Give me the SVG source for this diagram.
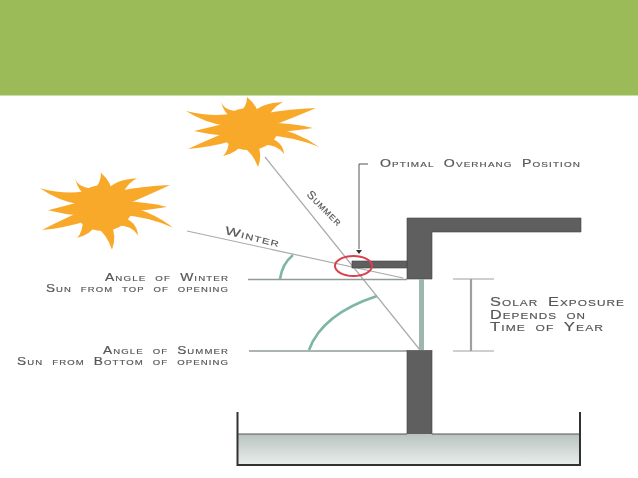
<svg xmlns="http://www.w3.org/2000/svg" width="638" height="478" viewBox="0 0 638 478">
<style>
text{font-family:"Liberation Sans",Arial,sans-serif;font-variant:small-caps;fill:#555;font-size:10px;letter-spacing:.8px;word-spacing:3px;stroke:#555;stroke-width:.15}
.big{font-size:12.500px}
.tilt{font-size:11.500px}
.ray{stroke:#aaa;stroke-width:1.2;fill:none}
.lvl{stroke:#8f9b97;stroke-width:1.3;fill:none}
.arc{stroke:#7db5a6;stroke-width:2.6;fill:none}
.wall{fill:#5f5f5f;stroke:#444;stroke-width:.6}
.dim{stroke:#a0a0a0;fill:none}
</style>
<defs>
<filter id="soft" x="-5%" y="-5%" width="110%" height="110%"><feGaussianBlur stdDeviation="0.45"/></filter>
<linearGradient id="soil" x1="0" y1="0" x2="0" y2="1"><stop offset="0" stop-color="#b9c3c0"/><stop offset="1" stop-color="#eaeeec"/></linearGradient>
<g id="sun" fill="#f9a92c">
<ellipse rx="29" ry="21"/>
<path d="M-20-15Q-38-12-63-18Q-44-6-22-3Z"/>
<path d="M-22-6Q-38-2-55 2Q-38 6-21 7Z"/>
<path d="M-22 3Q-44 12-61 20Q-38 18-17 12Z"/>
<path d="M-20 9Q-20 22-26 27Q-12 24-6 14Z"/>
<path d="M-8 16Q4 24 9 38Q14 26 8 14Z"/>
<path d="M8 16Q28 14 35 25Q34 12 18 8Z"/>
<path d="M16 6Q46 8 70 18Q48 2 20-2Z"/>
<path d="M20-6Q44-6 64-1Q44 2 20 4Z"/>
<path d="M18-16Q40-20 67-21Q46-12 20-2Z"/>
<path d="M4-16Q12-26 34-27Q20-20 18-6Z"/>
<path d="M-10-16Q-2-22-2-32Q10-22 8-14Z"/>
<path d="M-14-18Q-26-20-28-27Q-24-12-10-8Z"/>
</g>
</defs>
<g filter="url(#soft)">
<rect id="band" x="0" y="0" width="638" height="95.500" fill="#9bbb59"/>
<g id="sun-summer" transform="translate(249 129)"><use href="#sun"/></g>
<g id="sun-winter" transform="translate(103 208) scale(1 1.1)"><use href="#sun"/></g>
<g id="connectors">
<path class="ray" d="M265 157L420 350"/>
<path class="ray" d="M187 231L403 278"/>
<path class="lvl" d="M248 279.500H407"/>
<path class="lvl" d="M249 351H407"/>
<path class="arc" d="M280 279Q282 264 293 255"/>
<path class="arc" d="M309 350Q322 314 377 296"/>
<path d="M368 164H359V249" fill="none" stroke="#555" stroke-width="1"/>
<path d="M356 250H362L359 254Z" fill="#333"/>
<path class="dim" stroke-width="1.2" d="M453 279H494M453 351H494"/>
<path class="dim" stroke-width="2.2" d="M471 279V351"/>
</g>
<g id="building">
<path class="wall" d="M407 218H581V232H432V279H407Z"/>
<rect class="wall" x="352" y="261" width="55" height="7"/>
<rect x="419" y="279" width="5" height="71" fill="#9db6ae"/>
<rect class="wall" x="407" y="350.500" width="25" height="84"/>
</g>
<g id="overhang-marker"><ellipse cx="353.500" cy="266" rx="18.500" ry="10" fill="none" stroke="#d8404e" stroke-width="2"/></g>
<g id="ground">
<rect x="237" y="434" width="343" height="31" fill="url(#soil)"/>
<path d="M237 434H407M432 434H580" stroke="#555" fill="none"/>
<path d="M237.500 412V465H580V412" stroke="#333" stroke-width="2" fill="none"/>
</g>
<g id="labels">
<text x="380" y="167" textLength="201" lengthAdjust="spacingAndGlyphs">Optimal Overhang Position</text>
<text x="105" y="281" textLength="124" lengthAdjust="spacingAndGlyphs">Angle of Winter</text>
<text x="46" y="292" textLength="183" lengthAdjust="spacingAndGlyphs">Sun from top of opening</text>
<text x="103" y="354" textLength="126" lengthAdjust="spacingAndGlyphs">Angle of Summer</text>
<text x="17" y="365" textLength="212" lengthAdjust="spacingAndGlyphs">Sun from Bottom of opening</text>
<text class="big" x="490" y="306" textLength="135" lengthAdjust="spacingAndGlyphs">Solar Exposure</text>
<text class="big" x="490" y="318.500" textLength="96" lengthAdjust="spacingAndGlyphs">Depends on</text>
<text class="big" x="490" y="331" textLength="114" lengthAdjust="spacingAndGlyphs">Time of Year</text>
<text class="tilt" transform="translate(224.500 234) rotate(13.500)" textLength="56" lengthAdjust="spacingAndGlyphs">Winter</text>
<text class="tilt" transform="translate(306 195) rotate(45)" textLength="45" lengthAdjust="spacingAndGlyphs">Summer</text>
</g>
</g>
</svg>
